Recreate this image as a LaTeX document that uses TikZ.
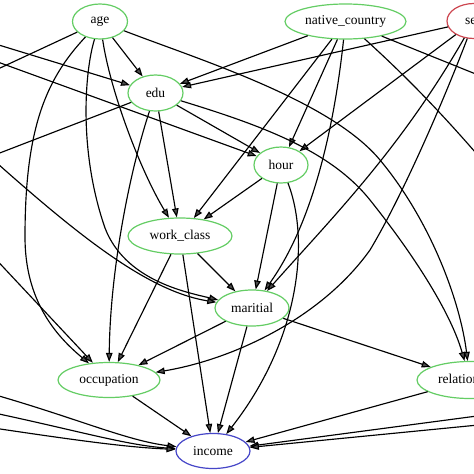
\documentclass[tikz,border=0pt]{standalone}
\usepackage{fontspec}
\setmainfont{Liberation Serif}
\usetikzlibrary{shapes.geometric,arrows.meta}
\definecolor{ngreen}{RGB}{100,205,100}
\definecolor{nred}{RGB}{205,70,80}
\definecolor{nblue}{RGB}{70,70,200}
\tikzset{
  nd/.style={ellipse,draw=ngreen,line width=1.2pt,inner sep=0pt,font=\fontsize{13.5}{14}\selectfont},
  arr/.style={draw=black,line width=1.15pt,-{Triangle[length=9pt,width=6.5pt,fill=black!70]}},
  ln/.style={draw=black,line width=1.15pt},
}
\begin{document}
\begin{tikzpicture}[x=1pt,y=-1pt]
\useasboundingbox (0,0) rectangle (474,474);
\clip (0,0) rectangle (474,474);
\fill[white] (0,0) rectangle (474,474);
\node[nd,minimum width=55pt,minimum height=35pt] (age) at (100,21.5) {age};
\node[nd,minimum width=121pt,minimum height=35pt] (native) at (345.5,21.5) {native\_country};
\node[nd,draw=nred,minimum width=54pt,minimum height=35pt] (sex) at (474,21) {sex};
\node[nd,minimum width=55pt,minimum height=36pt] (edu) at (155.5,93) {edu};
\node[nd,minimum width=54pt,minimum height=36pt] (hour) at (281,165) {hour};
\node[nd,minimum width=104pt,minimum height=36pt] (wc) at (180,236) {work\_class};
\node[nd,minimum width=74pt,minimum height=36pt] (mar) at (252,308) {maritial};
\node[nd,minimum width=102pt,minimum height=35pt] (occ) at (109,380) {occupation};
\node[nd,minimum width=106pt,minimum height=37pt] (rel) at (470,380) {relationship};
\node[nd,draw=nblue,minimum width=74pt,minimum height=35pt] (inc) at (213,451) {income};
\coordinate (LA) at (-60,96);
\coordinate (Le) at (-60,27);
\coordinate (Lh) at (-60,41);
\coordinate (Ld) at (-60,176);
\coordinate (Lm) at (-40,130);
\coordinate (Lo) at (-40,221);
\coordinate (Li1) at (-60,380);
\coordinate (Li2) at (-60,402);
\coordinate (Li3) at (-60,420);
\coordinate (Ri1) at (560,405);
\coordinate (Ri2) at (560,417);
\coordinate (Rn1) at (560,108);
\coordinate (Rn2) at (540,230);
% age
\draw[arr] (age) -- (edu);
\draw[ln] (age) -- (LA);
\draw[arr] (age) .. controls (45,80) and (25,130) .. (25,237) .. controls (25,300) and (55,335) .. (occ);
\draw[arr] (age) .. controls (85,70) and (78,150) .. (105,228) .. controls (125,280) and (185,292) .. (mar);
\draw[arr] (age) .. controls (110,90) and (140,170) .. (wc);
\draw[arr] (age) .. controls (200,60) and (330,100) .. (380,160) .. controls (430,220) and (460,300) .. (rel);
% left
\draw[arr] (Le) -- (edu);
\draw[arr] (Lh) -- (hour);
\draw[arr] (Lm) .. controls (60,220) and (140,290) .. (mar);
\draw[arr] (Lo) -- (occ);
\draw[arr] (Li1) .. controls (60,410) and (120,440) .. (inc);
\draw[arr] (Li2) .. controls (60,425) and (120,445) .. (inc);
\draw[arr] (Li3) .. controls (60,438) and (120,447) .. (inc);
% native
\draw[arr] (native) -- (edu);
\draw[arr] (native) -- (hour);
\draw[arr] (native) -- (wc);
\draw[arr] (native) .. controls (335,120) and (315,220) .. (mar);
\draw[ln] (native) -- (Rn1);
\draw[ln] (native) .. controls (410,80) and (460,130) .. (Rn2);
% sex
\draw[arr] (sex) -- (edu);
\draw[arr] (sex) -- (hour);
\draw[arr] (sex) .. controls (400,150) and (330,220) .. (mar);
\draw[arr] (sex) .. controls (440,110) and (400,200) .. (370,250) .. controls (320,320) and (230,360) .. (occ);
% edu
\draw[arr] (edu) -- (hour);
\draw[arr] (edu) -- (wc);
\draw[arr] (edu) .. controls (130,170) and (110,270) .. (occ);
\draw[ln] (edu) -- (Ld);
\draw[arr] (edu) .. controls (260,125) and (330,150) .. (370,200) .. controls (410,250) and (450,310) .. (rel);
% hour
\draw[arr] (hour) -- (wc);
\draw[arr] (hour) -- (mar);
\draw[arr] (hour) .. controls (310,240) and (300,340) .. (inc);
% work_class
\draw[arr] (wc) -- (mar);
\draw[arr] (wc) -- (inc);
\draw[arr] (wc) -- (occ);
% maritial
\draw[arr] (mar) -- (occ);
\draw[arr] (mar) -- (inc);
\draw[arr] (mar) -- (rel);
% bottom
\draw[arr] (occ) -- (inc);
\draw[arr] (rel) -- (inc);
\draw[arr] (Ri1) -- (inc);
\draw[arr] (Ri2) -- (inc);
\end{tikzpicture}
\end{document}
